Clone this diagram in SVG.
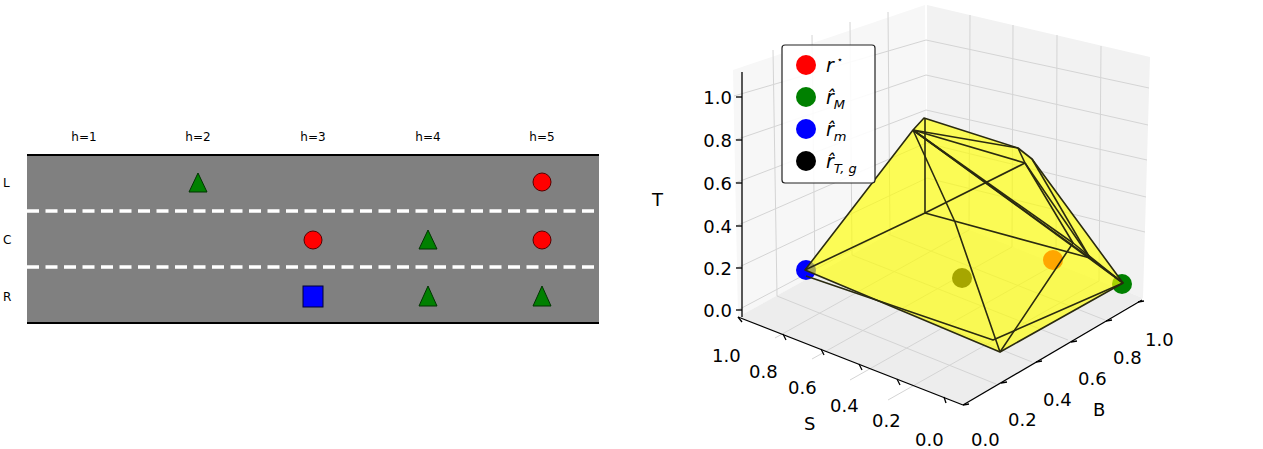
<svg xmlns="http://www.w3.org/2000/svg" width="1263" height="449" viewBox="0 0 1263 449">
<style>
.s{font-family:"DejaVu Sans",sans-serif;font-size:12px;fill:#000}
.t{font-family:"DejaVu Sans",sans-serif;font-size:18px;fill:#000}
.i{font-family:"DejaVu Sans",sans-serif;font-style:italic;font-size:19px;fill:#000}
.g{stroke:#d4d4d4;stroke-width:1;fill:none}
.e{stroke:#2a2a10;stroke-width:1.6;fill:none;stroke-linejoin:round}
.ax{stroke:#000;stroke-width:1.3;fill:none}
.tri{fill:#008000;stroke:#003300;stroke-width:1}
.cir{fill:#ff0000;stroke:#550000;stroke-width:1}
</style>
<rect width="1263" height="449" fill="#fff"/>
<g id="road">
<rect x="27" y="155" width="572" height="168" fill="#808080"/>
<line x1="27" y1="155" x2="599" y2="155" stroke="#000" stroke-width="2"/>
<line x1="27" y1="323" x2="599" y2="323" stroke="#000" stroke-width="2"/>
<line x1="27" y1="211" x2="599" y2="211" stroke="#fff" stroke-width="3.5" stroke-dasharray="12,6.5"/>
<line x1="27" y1="267" x2="599" y2="267" stroke="#fff" stroke-width="3.5" stroke-dasharray="12,6.5"/>
<text class="s" x="84" y="141" text-anchor="middle">h=1</text>
<text class="s" x="198" y="141" text-anchor="middle">h=2</text>
<text class="s" x="313" y="141" text-anchor="middle">h=3</text>
<text class="s" x="428" y="141" text-anchor="middle">h=4</text>
<text class="s" x="542" y="141" text-anchor="middle">h=5</text>
<text class="s" x="3" y="187">L</text>
<text class="s" x="3" y="244">C</text>
<text class="s" x="3" y="301">R</text>
<polygon class="tri" points="198,173 189,192 207,192"/>
<circle class="cir" cx="542" cy="182" r="9"/>
<circle class="cir" cx="313" cy="240" r="9"/>
<polygon class="tri" points="428,230 419,249 437,249"/>
<circle class="cir" cx="542" cy="240" r="9"/>
<rect x="303" y="286" width="20" height="21" fill="#0000ff" stroke="#000033"/>
<polygon class="tri" points="428,286 419,306 437,306"/>
<polygon class="tri" points="542,286 533,306 551,306"/>
</g>
<g id="plot3d">
<polygon points="738,317 733,70 925,5 927,213" fill="#f7f7f7"/>
<polygon points="927,213 927,5 1150,57 1143,298" fill="#f2f2f2"/>
<polygon points="738,317 927,213 1143,298 963,405" fill="#ededed"/>
<g class="g">
<line x1="734" y1="96" x2="926" y2="40"/><line x1="735" y1="140" x2="926" y2="75"/><line x1="735" y1="183" x2="926" y2="110"/><line x1="736" y1="226" x2="926" y2="143"/><line x1="737" y1="268" x2="927" y2="178"/><line x1="738" y1="310" x2="927" y2="210"/>
<line x1="926" y1="40" x2="1149" y2="88"/><line x1="926" y1="75" x2="1148" y2="125"/><line x1="926" y1="110" x2="1147" y2="160"/><line x1="926" y1="143" x2="1146" y2="197"/><line x1="927" y1="178" x2="1145" y2="232"/>
<line x1="777" y1="296" x2="773" y2="50"/><line x1="815" y1="275" x2="812" y2="35"/><line x1="852" y1="255" x2="850" y2="22"/><line x1="890" y1="234" x2="888" y2="12"/>
<line x1="969" y1="230" x2="970" y2="15"/><line x1="1012" y1="247" x2="1013" y2="25"/><line x1="1056" y1="264" x2="1057" y2="35"/><line x1="1099" y1="281" x2="1101" y2="46"/>
<line x1="775" y1="338" x2="969" y2="230"/><line x1="812" y1="359" x2="1012" y2="247"/><line x1="850" y1="380" x2="1056" y2="264"/><line x1="888" y1="400" x2="1099" y2="281"/>
<line x1="888" y1="234" x2="1105" y2="320"/><line x1="852" y1="255" x2="1068" y2="340"/><line x1="815" y1="275" x2="1032" y2="362"/><line x1="777" y1="296" x2="996" y2="384"/>
</g>
<g class="ax">
<line x1="742" y1="72" x2="742" y2="317"/>
<line x1="738" y1="317" x2="963" y2="405"/>
<line x1="963" y1="405" x2="1142" y2="300"/>
<line x1="736" y1="97" x2="742" y2="97"/><line x1="736" y1="140" x2="742" y2="140"/><line x1="736" y1="183" x2="742" y2="183"/><line x1="736" y1="226" x2="742" y2="226"/><line x1="736" y1="268" x2="742" y2="268"/><line x1="736" y1="310" x2="742" y2="310"/>
<line x1="738" y1="317" x2="742" y2="322"/><line x1="783" y1="334" x2="786" y2="340"/><line x1="821" y1="349" x2="824" y2="355"/><line x1="859" y1="364" x2="862" y2="370"/><line x1="897" y1="379" x2="900" y2="385"/><line x1="944" y1="397" x2="946" y2="403"/>
<line x1="963" y1="405" x2="969" y2="404"/><line x1="1001" y1="383" x2="1007" y2="382"/><line x1="1036" y1="362" x2="1042" y2="361"/><line x1="1071" y1="342" x2="1077" y2="341"/><line x1="1106" y1="321" x2="1112" y2="320"/><line x1="1138" y1="302" x2="1144" y2="301"/>
</g>
<g class="t">
<text x="732" y="104" text-anchor="end">1.0</text><text x="732" y="147" text-anchor="end">0.8</text><text x="732" y="190" text-anchor="end">0.6</text><text x="732" y="233" text-anchor="end">0.4</text><text x="732" y="275" text-anchor="end">0.2</text><text x="732" y="317" text-anchor="end">0.0</text>
<text x="652" y="206">T</text>
<text x="712" y="362">1.0</text><text x="749" y="378">0.8</text><text x="788" y="394">0.6</text><text x="830" y="412">0.4</text><text x="872" y="427">0.2</text><text x="915" y="446">0.0</text>
<text x="804" y="430">S</text>
<text x="971" y="446">0.0</text><text x="1008" y="426">0.2</text><text x="1043" y="406">0.4</text><text x="1078" y="385">0.6</text><text x="1113" y="364">0.8</text><text x="1145" y="346">1.0</text>
<text x="1093" y="416">B</text>
</g>
<circle cx="806" cy="270" r="10" fill="#0000ff"/>
<circle cx="962" cy="278" r="10" fill="#000"/>
<circle cx="1053" cy="260" r="10" fill="#ff0000"/>
<circle cx="1122" cy="284" r="10" fill="#008000"/>
<polygon points="805,270 913,130 924,118 1018,148 1032,159 1123,283 1000,352" fill="#ffff00" fill-opacity="0.65"/>
<g class="e">
<polygon points="805,270 913,130 924,118 1018,148 1032,159 1123,283 1000,352"/>
<polyline points="806,276 993,340 1123,283"/>
<line x1="805" y1="270" x2="925" y2="213"/>
<line x1="925" y1="213" x2="1090" y2="258"/>
<line x1="925" y1="213" x2="1025" y2="163"/>
<line x1="925" y1="118" x2="925" y2="213"/>
<polyline points="913,130 955,222 1000,352"/>
<line x1="913" y1="130" x2="1073" y2="243"/>
<line x1="913" y1="130" x2="1090" y2="258"/>
<line x1="913" y1="130" x2="1123" y2="283"/>
<line x1="913" y1="130" x2="1025" y2="163"/>
<line x1="913" y1="130" x2="1018" y2="148"/>
<polyline points="1025,163 1073,243 1000,352"/>
<line x1="1073" y1="243" x2="1123" y2="283"/>
<line x1="1025" y1="163" x2="1090" y2="258"/>
<line x1="1090" y1="258" x2="1123" y2="283"/>
<line x1="1018" y1="148" x2="1025" y2="163"/>
<line x1="1032" y1="159" x2="1090" y2="258"/>
</g>
</g>
<g id="legend">
<rect x="782" y="45" width="93" height="138" rx="3" fill="#fff" fill-opacity="0.9" stroke="#222" stroke-width="1.2"/>
<circle cx="806" cy="65" r="10" fill="#ff0000"/>
<circle cx="806" cy="97" r="10" fill="#008000"/>
<circle cx="806" cy="129" r="10" fill="#0000ff"/>
<circle cx="806" cy="161" r="10" fill="#000"/>
<text class="i" x="802" y="72" dx="24">r<tspan dx="3" dy="-9" font-size="10" font-style="normal">⋆</tspan></text>
<text class="i" x="826" y="104">r̂<tspan dy="5" font-size="13">M</tspan></text>
<text class="i" x="826" y="136">r̂<tspan dy="5" font-size="13">m</tspan></text>
<text class="i" x="826" y="168">r̂<tspan dy="5" font-size="13">T, g</tspan></text>
</g>
</svg>
